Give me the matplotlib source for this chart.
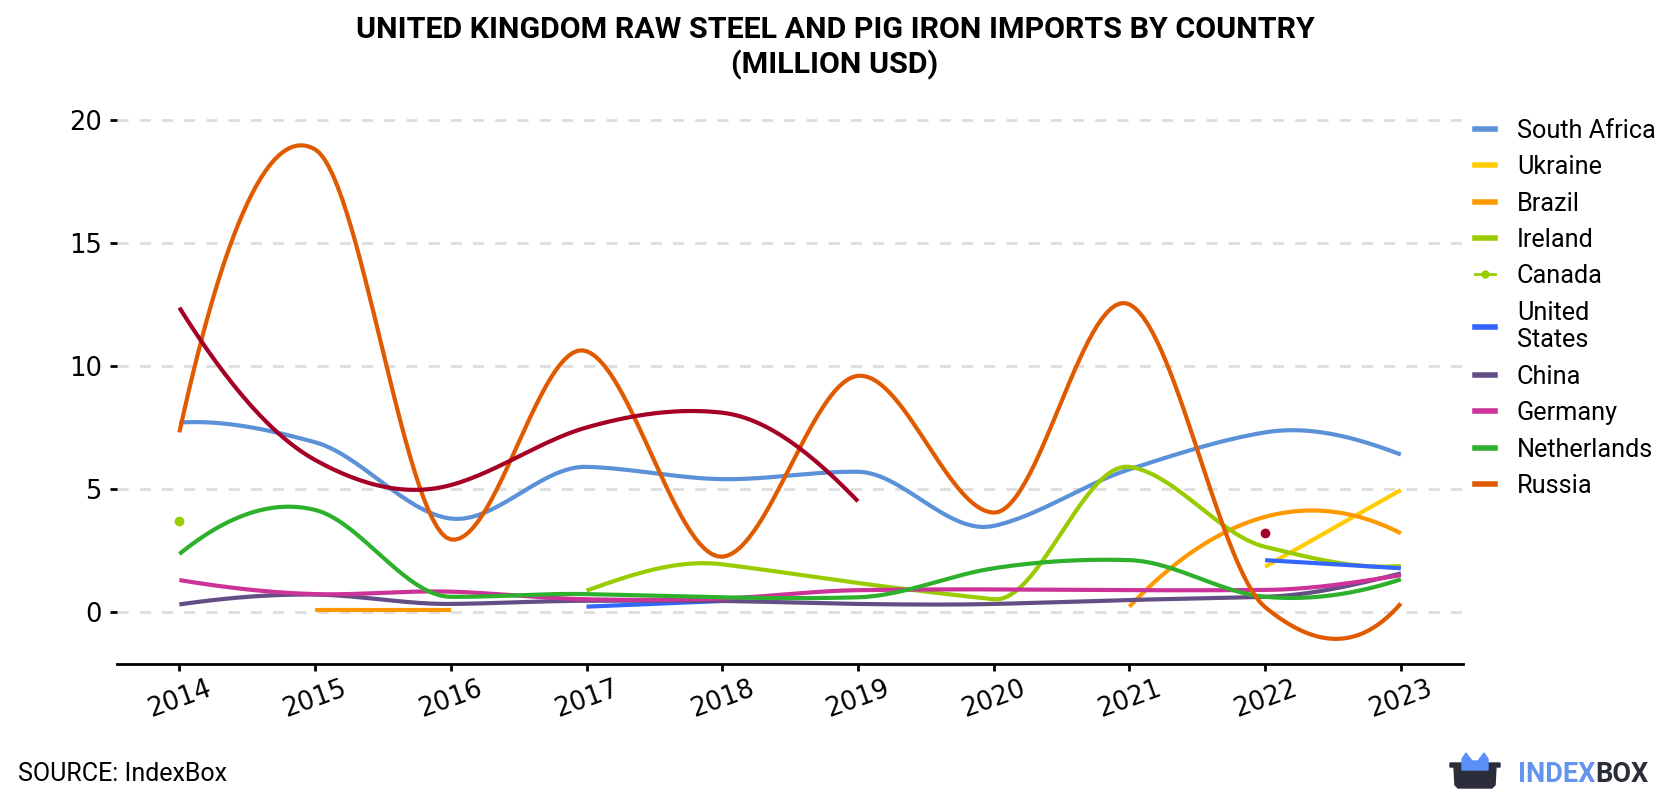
import numpy as np
import matplotlib.pyplot as plt
from matplotlib.patches import Polygon

years = [2014, 2015, 2016, 2017, 2018, 2019, 2020, 2021, 2022, 2023]
nan = np.nan

south_africa = [7.7, 6.9, 3.8, 5.9, 5.4, 5.7, 3.5, 5.8, 7.3, 6.4]
ukraine = [nan, nan, nan, nan, nan, nan, nan, nan, 1.84, 4.96]
brazil = [nan, 0.1, 0.1, nan, nan, nan, nan, 0.22, 3.87, 3.2]
ireland = [nan, nan, nan, 0.87, 1.94, 1.18, 0.52, 5.9, 2.65, 1.87]
canada = [3.7, nan, nan, nan, nan, nan, nan, nan, nan, nan]
united_states = [nan, nan, nan, 0.22, 0.45, nan, nan, nan, 2.11, 1.78]
china = [0.31, 0.71, 0.33, 0.46, 0.45, 0.33, 0.33, 0.49, 0.62, 1.57]
germany = [1.3, 0.73, 0.83, 0.52, 0.55, 0.89, 0.92, 0.89, 0.9, 1.5]
netherlands = [2.36, 4.15, 0.62, 0.73, 0.6, 0.6, 1.78, 2.11, 0.62, 1.33]
russia = [7.3, 18.8, 2.95, 10.6, 2.25, 9.6, 4.04, 12.5, 0.2, 0.35]
other = [12.37, 6.18, 5.16, 7.5, 8.1, 4.5, nan, nan, 3.2, nan]

series = [
    ('South Africa', south_africa, '#5B91D9'),
    ('Ukraine', ukraine, '#FFCC00'),
    ('Brazil', brazil, '#FF9900'),
    ('Ireland', ireland, '#99CC00'),
    ('Canada', canada, '#99CC00'),
    ('United\nStates', united_states, '#3366FF'),
    ('China', china, '#634E85'),
    ('Germany', germany, '#CC3399'),
    ('Netherlands', netherlands, '#2DB12D'),
    ('Russia', russia, '#E05A00'),
    ('_other', other, '#A50026'),
]


def akima(x, y, n=30):
    # Akima spline through the points (for drawing the smooth line only)
    x = np.asarray(x, float)
    y = np.asarray(y, float)
    if len(x) < 3:
        return x, y
    m = np.empty(len(x) + 3)
    m[2:-2] = np.diff(y) / np.diff(x)
    m[1] = 2 * m[2] - m[3]
    m[0] = 2 * m[1] - m[2]
    m[-2] = 2 * m[-3] - m[-4]
    m[-1] = 2 * m[-2] - m[-3]
    t = 0.5 * (m[3:] + m[:-3])
    dm = np.abs(np.diff(m))
    f1 = dm[2:]
    f2 = dm[:-2]
    f12 = f1 + f2
    ok = f12 > 1e-9 * f12.max()
    t[ok] = (f1[ok] * m[1:-2][ok] + f2[ok] * m[2:-1][ok]) / f12[ok]
    xs, ys = [], []
    for i in range(len(x) - 1):
        h = x[i + 1] - x[i]
        s = np.linspace(0, 1, n, endpoint=(i == len(x) - 2))
        h00 = 2 * s ** 3 - 3 * s ** 2 + 1
        h10 = s ** 3 - 2 * s ** 2 + s
        h01 = -2 * s ** 3 + 3 * s ** 2
        h11 = s ** 3 - s ** 2
        xs.append(x[i] + s * h)
        ys.append(h00 * y[i] + h10 * h * t[i] + h01 * y[i + 1] + h11 * h * t[i + 1])
    return np.concatenate(xs), np.concatenate(ys)


def runs(x, y):
    # split a series into contiguous non-missing pieces
    out, cur = [], []
    for xi, yi in zip(x, y):
        if np.isnan(yi):
            if cur:
                out.append(cur)
            cur = []
        else:
            cur.append((xi, yi))
    if cur:
        out.append(cur)
    return out


fig = plt.figure(figsize=(16.8, 8), dpi=100)
ax = fig.add_axes([0.0696, 0.17, 0.8014, 0.711])

for name, vals, color in series:
    for piece in runs(years, vals):
        px, py = zip(*piece)
        if len(piece) == 1:
            ax.plot(px, py, 'o', color=color, markersize=6, zorder=3)
        else:
            sx, sy = akima(px, py)
            ax.plot(sx, sy, color=color, lw=3, solid_capstyle='butt', zorder=3)

ax.set_xlim(2013.54, 2023.46)
ax.set_ylim(-2.11, 21.0)
ax.set_yticks([0, 5, 10, 15, 20])
ax.set_xticks(years)
ax.set_xticklabels([str(y) for y in years], rotation=20)
ax.grid(axis='y', color='#DDDDDD', lw=2, ls=(0, (4, 4)))
ax.set_axisbelow(True)
for s in ['top', 'right', 'left']:
    ax.spines[s].set_visible(False)
ax.spines['bottom'].set_linewidth(2)
ax.tick_params(axis='both', labelsize=18.5, width=2, length=5)
ax.tick_params(axis='y', pad=6)

leg_handles = []
leg_labels = []
for name, vals, color in series:
    if name.startswith('_'):
        continue
    if name == 'Canada':
        h, = ax.plot([], [], color=color, lw=2, marker='o', markersize=5)
    else:
        h, = ax.plot([], [], color=color, lw=4)
    leg_handles.append(h)
    leg_labels.append(name)
fig.legend(leg_handles, leg_labels, loc='upper left', bbox_to_anchor=(0.8645, 0.880),
           frameon=False, prop={'family': 'Roboto', 'size': 18.2},
           handlelength=0.8, handletextpad=0.85, labelspacing=0.49)

fig.text(0.497, 0.98, 'UNITED KINGDOM RAW STEEL AND PIG IRON IMPORTS BY COUNTRY\n(MILLION USD)',
         ha='center', va='top', fontsize=21.9, fontweight='bold',
         family=['Liberation Sans Narrow', 'Roboto'], linespacing=1.25)
fig.text(0.011, 0.032, 'SOURCE: IndexBox', ha='left', va='center', fontsize=18, family='Roboto')

# logo
t1 = fig.text(0.9035, 0.032, 'INDEX', ha='left', va='center', fontsize=19.5, fontweight='bold',
              family='Roboto', color='#6495ED')
fig.canvas.draw()
bb = t1.get_window_extent(fig.canvas.get_renderer())
fig.text(bb.x1 / 1680.0, 0.032, 'BOX', ha='left', va='center', fontsize=19.5, fontweight='bold',
         family='Roboto', color='#2B2D3A')
W, H = 1680.0, 800.0
box = [(1450, 37), (1500, 37), (1500, 33), (1496, 33), (1495, 15), (1492, 12),
       (1458, 12), (1455, 15), (1454, 33), (1450, 33)]
fig.patches.append(Polygon([(x / W, y / H) for x, y in box], closed=True,
                           transform=fig.transFigure, color='#2B2D3A'))
ears = [(1462, 30), (1462, 41), (1466, 47), (1472, 39), (1478, 39), (1484, 47),
        (1488, 41), (1488, 30)]
fig.patches.append(Polygon([(x / W, y / H) for x, y in ears], closed=True,
                           transform=fig.transFigure, color='#5B8FF9'))

fig.savefig('out.png', dpi=100)
